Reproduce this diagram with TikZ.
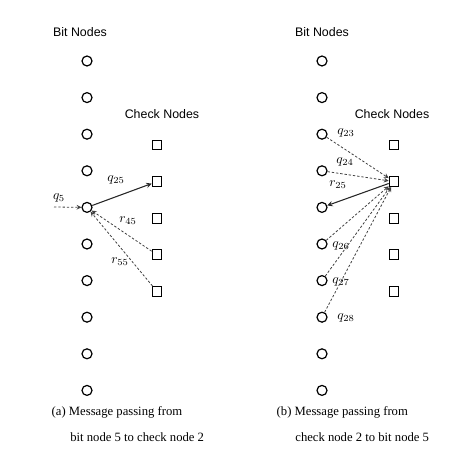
\documentclass[tikz,border=0pt]{standalone}
\usepackage{fontspec}
\setmainfont{Liberation Serif}
\setsansfont{Liberation Sans}
\usetikzlibrary{arrows}
\tikzstyle{bit} = [circle, draw=black, line width=0.9pt, minimum size=7.5pt, inner sep=0pt]
\tikzstyle{check} = [rectangle, draw=black, line width=0.7pt, minimum size=7.3pt, inner sep=0pt]
\tikzstyle{title} = [font=\sffamily\fontsize{9.3}{11}\selectfont]
\tikzstyle{caption} = [font=\fontsize{9.5}{19.5}\selectfont, align=left, anchor=base west]
\tikzstyle{msg} = [font=\fontsize{10}{12}\selectfont, inner sep=0pt]
\tikzstyle{arrow} = [->,>=stealth, line width=0.8pt, black!85]
\tikzstyle{dasharrow} = [->,>=stealth, line width=0.6pt, dash pattern=on 1.8pt off 1.4pt, black!75]

\begin{document}
\begin{tikzpicture}[x=0.75pt, y=-0.75pt, node distance=27.45pt]
\useasboundingbox (0,0) rectangle (474,470);

% (a) bit node 5 to check node 2
\node (titleBitL) [title] at (80,32) {Bit Nodes};
\node (titleCheckL) [title] at (162,114) {Check Nodes};

\node (bitL1) [bit] at (87,61) {};
\node (bitL2) [bit, below of=bitL1] {};
\node (bitL3) [bit, below of=bitL2] {};
\node (bitL4) [bit, below of=bitL3] {};
\node (bitL5) [bit, below of=bitL4] {};
\node (bitL6) [bit, below of=bitL5] {};
\node (bitL7) [bit, below of=bitL6] {};
\node (bitL8) [bit, below of=bitL7] {};
\node (bitL9) [bit, below of=bitL8] {};
\node (bitL10) [bit, below of=bitL9] {};

\node (checkL1) [check] at (157,145) {};
\node (checkL2) [check, below of=checkL1] {};
\node (checkL3) [check, below of=checkL2] {};
\node (checkL4) [check, below of=checkL3] {};
\node (checkL5) [check, below of=checkL4] {};

\coordinate (inL5) at (54,207);
\node (labelQ5) [msg] at (59,198) {$q_5$};
\node (labelQ25) [msg] at (116,180) {$q_{25}$};
\node (labelR45) [msg] at (128,221) {$r_{45}$};
\node (labelR55) [msg] at (120,262) {$r_{55}$};

\draw [dasharrow] (inL5) -- (bitL5);
\draw [arrow] (bitL5) -- (checkL2);
\draw [dasharrow] (checkL4) -- (bitL5);
\draw [dasharrow] (checkL5) -- (bitL5);

\node (captionA) [caption] at (47,441) {(a) Message passing from\\\hspace*{14pt}bit node 5 to check node 2};

% (b) check node 2 to bit node 5
\node (titleBitR) [title] at (322,32) {Bit Nodes};
\node (titleCheckR) [title] at (392,114) {Check Nodes};

\node (bitR1) [bit] at (322,61) {};
\node (bitR2) [bit, below of=bitR1] {};
\node (bitR3) [bit, below of=bitR2] {};
\node (bitR4) [bit, below of=bitR3] {};
\node (bitR5) [bit, below of=bitR4] {};
\node (bitR6) [bit, below of=bitR5] {};
\node (bitR7) [bit, below of=bitR6] {};
\node (bitR8) [bit, below of=bitR7] {};
\node (bitR9) [bit, below of=bitR8] {};
\node (bitR10) [bit, below of=bitR9] {};

\node (checkR1) [check] at (394,145) {};
\node (checkR2) [check, below of=checkR1] {};
\node (checkR3) [check, below of=checkR2] {};
\node (checkR4) [check, below of=checkR3] {};
\node (checkR5) [check, below of=checkR4] {};

\node (labelQ23) [msg] at (346,133) {$q_{23}$};
\node (labelQ24) [msg] at (345,162) {$q_{24}$};
\node (labelR25) [msg] at (338,185) {$r_{25}$};
\node (labelQ26) [msg] at (341,246) {$q_{26}$};
\node (labelQ27) [msg] at (341,282) {$q_{27}$};
\node (labelQ28) [msg] at (346,318) {$q_{28}$};

\draw [dasharrow] (bitR3) -- (checkR2);
\draw [dasharrow] (bitR4) -- (checkR2);
\draw [arrow] (checkR2) -- (bitR5);
\draw [dasharrow] (bitR6) -- (checkR2);
\draw [dasharrow] (bitR7) -- (checkR2);
\draw [dasharrow] (bitR8) -- (checkR2);

\node (captionB) [caption] at (272,441) {(b) Message passing from\\\hspace*{14pt}check node 2 to bit node 5};

\end{tikzpicture}
\end{document}
